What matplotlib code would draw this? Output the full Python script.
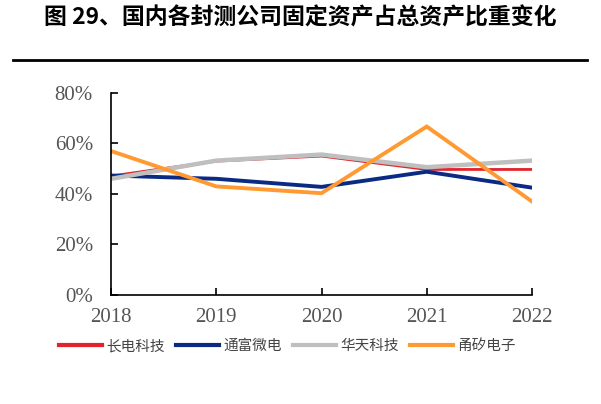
import matplotlib.pyplot as plt
from matplotlib.ticker import PercentFormatter
from matplotlib.lines import Line2D

years = [2018, 2019, 2020, 2021, 2022]
changdian = [0.471, 0.530, 0.550, 0.497, 0.497]
tongfu = [0.473, 0.460, 0.428, 0.488, 0.425]
huatian = [0.460, 0.532, 0.556, 0.506, 0.532]
yongsi = [0.570, 0.430, 0.403, 0.667, 0.370]
names = ["长电科技", "通富微电", "华天科技", "甬矽电子"]
colors = ["#E3232B", "#0A2A84", "#BFBFBF", "#FF9A33"]
widths = [2.0, 2.8, 3.2, 2.8]

fig = plt.figure(figsize=(6.01, 4.04), dpi=100)
ax = fig.add_axes([0.1847, 0.2698, 0.7005, 0.5002])

series = [changdian, tongfu, huatian, yongsi]
for vals, c, w in zip(series, colors, widths):
    ax.plot(years, vals, color=c, lw=w, solid_joinstyle="miter")

ax.set_xlim(2018, 2022)
ax.set_ylim(0, 0.8)
ax.set_xticks(years)
ax.set_yticks([0, 0.2, 0.4, 0.6, 0.8])
ax.yaxis.set_major_formatter(PercentFormatter(1.0, decimals=0))
for s in ["top", "right"]:
    ax.spines[s].set_visible(False)
for s in ["left", "bottom"]:
    ax.spines[s].set_linewidth(1.2)
ax.tick_params(direction="in", length=5, width=1.2, colors="black",
               labelcolor="#555555", labelsize=15)
ax.tick_params(axis="y", pad=13)
ax.tick_params(axis="x", pad=9)
for lab in ax.get_xticklabels() + ax.get_yticklabels():
    lab.set_family("Liberation Serif")

fig.text(0.5, 0.955, "图 29、国内各封测公司固定资产占总资产比重变化", ha="center", va="center",
         fontsize=16.5, fontweight="bold", family=["Noto Sans CJK SC", "DejaVu Sans"])
fig.add_artist(Line2D([0.022, 0.977], [0.852, 0.852], color="black", lw=2))

handles = [Line2D([], [], color=c, lw=3) for c in colors]
fig.legend(handles, names, loc="center", bbox_to_anchor=(0.478, 0.143), ncol=4,
           frameon=False, handlelength=2.95, handletextpad=0.3, columnspacing=0.75,
           prop={"family": "Noto Sans CJK SC", "size": 10.5}, labelcolor="#444444")

fig.savefig("out.png", dpi=100)
